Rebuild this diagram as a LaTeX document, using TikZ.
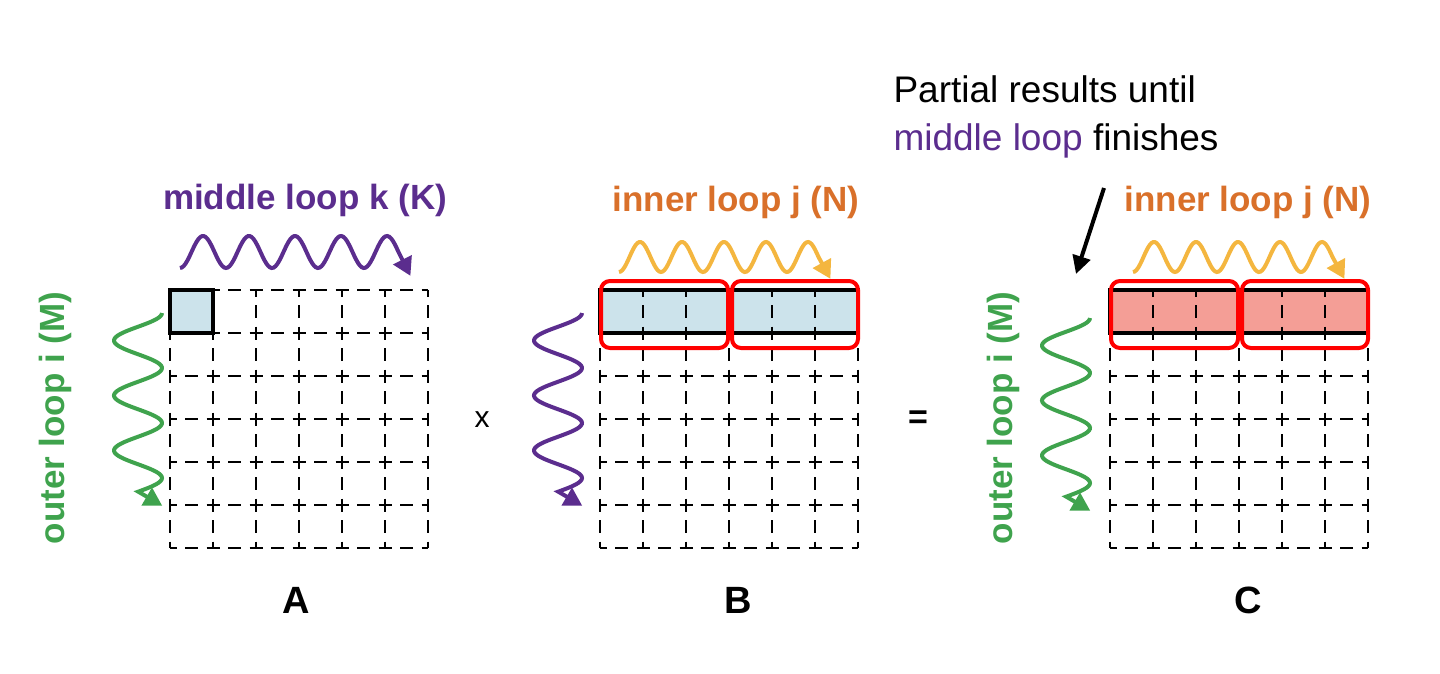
\documentclass[tikz,border=0pt]{standalone}
\usepackage{fontspec}
\setmainfont{Liberation Sans}
\usetikzlibrary{arrows.meta}
\definecolor{pur}{HTML}{5B2D8E}
\definecolor{grn}{HTML}{3FA34D}
\definecolor{org}{HTML}{D9702A}
\definecolor{yel}{HTML}{F4B63F}
\definecolor{lblue}{HTML}{CCE3EB}
\definecolor{lred}{HTML}{F49E96}
\tikzset{
  grid/.style={line width=2.3pt,dash pattern=on 13pt off 8.5pt,dash phase=6.5pt},
  wave/.style={line width=4pt,-{Triangle[length=18pt,width=20pt]}},
  lbl/.style={font=\bfseries\fontsize{35}{38}\selectfont},
  big/.style={font=\bfseries\fontsize{38}{40}\selectfont},
  redbox/.style={draw=red,line width=4pt,rounded corners=9pt},
}
\newcommand{\mygrid}[1]{%
  \foreach \i in {0,...,6}{
    \draw[grid] (#1+\i*43,290) -- (#1+\i*43,548);
    \draw[grid] (#1,290+\i*43) -- (#1+258,290+\i*43);
  }}
\begin{document}
\begin{tikzpicture}[x=1pt,y=-1pt]
\useasboundingbox (0,0) rectangle (1440,674);
% matrices
\fill[lblue] (170,290) rectangle (213,333);
\fill[lblue] (600,290) rectangle (858,333);
\fill[lred] (1110,290) rectangle (1368,333);
\mygrid{170}
\mygrid{600}
\mygrid{1110}
\draw[line width=4pt] (170,290) rectangle (213,333);
\draw[line width=3.5pt] (600,290) rectangle (858,333);
\draw[line width=3.5pt] (1110,290) rectangle (1368,333);
\draw[redbox] (601,281) rectangle (728,348);
\draw[redbox] (732,281) rectangle (858,348);
\draw[redbox] (1111,281) rectangle (1238,348);
\draw[redbox] (1242,281) rectangle (1368,348);
% waves
\draw[wave,pur] plot[smooth,domain=0:4.75,samples=120] ({180+\x*46},{252+16*cos(\x*360)}) -- ++(12,24);
\draw[wave,yel] plot[smooth,domain=0:4.75,samples=120] ({619+\x*42},{257+15*cos(\x*360)}) -- ++(12,22);
\draw[wave,yel] plot[smooth,domain=0:4.75,samples=120] ({1133+\x*42},{257+15*cos(\x*360)}) -- ++(12,22);
\draw[wave,grn] plot[smooth,domain=0:3.25,samples=120] ({138-24*cos(\x*360+180)},{313+\x*55}) -- ++(24,14);
\draw[wave,grn] plot[smooth,domain=0:3.25,samples=120] ({1066-24*cos(\x*360+180)},{318+\x*55}) -- ++(24,14);
\draw[wave,pur] plot[smooth,domain=0:3.25,samples=120] ({558-24*cos(\x*360+180)},{313+\x*55}) -- ++(24,14);
% labels
\node[lbl,pur] (mk) at (305,200) {middle loop k (K)};
\node[lbl,org] (ib) at (736,202) {inner loop j (N)};
\node[lbl,org] (ic) at (1248,202) {inner loop j (N)};
\node[lbl,grn,rotate=90] (oa) at (55,418) {outer loop i (M)};
\node[lbl,grn,rotate=90] (oc) at (1003,418) {outer loop i (M)};
\node[big] (la) at (296,600) {A};
\node[big] (lb) at (738,600) {B};
\node[big] (lc) at (1248,600) {C};
\node[font=\fontsize{30}{32}\selectfont] (x) at (482,420) {x};
\node[font=\bfseries\fontsize{34}{36}\selectfont] (eq) at (918,420) {=};
\node[font=\fontsize{37}{48}\selectfont,align=left,anchor=west] (pr) at (890,117)
  {Partial results until\\\textcolor{pur}{middle loop} finishes};
\coordinate (tip) at (1076,274);
\draw[line width=4pt,-{Triangle[length=18pt,width=18pt]}] (1104,188) -- (tip);
\end{tikzpicture}
\end{document}
